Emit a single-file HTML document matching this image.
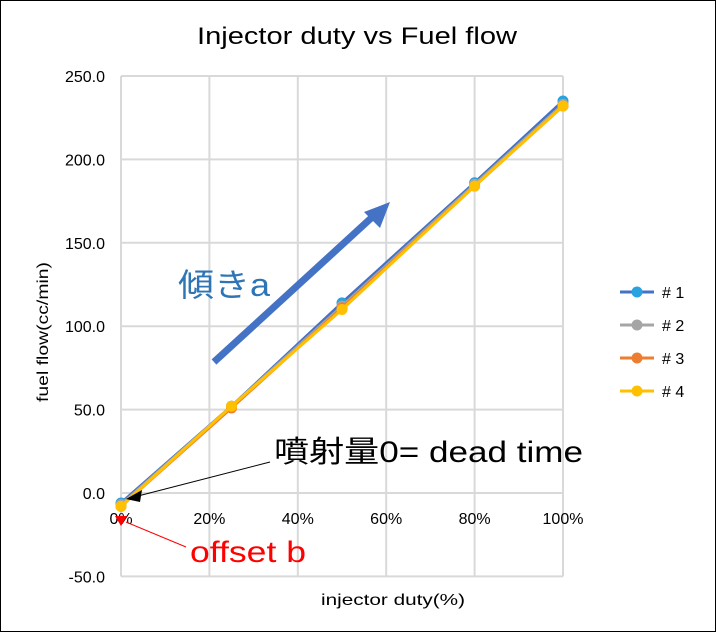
<!DOCTYPE html>
<html><head><meta charset="utf-8"><style>
body{margin:0;background:#fff}
svg{display:block;font-family:"Liberation Sans","Noto Sans CJK JP",sans-serif}
</style></head><body>
<svg width="716" height="632">
<rect x="0.5" y="0.5" width="715" height="631" fill="#fff" stroke="#000"/>
<text x="197" y="44" font-size="24" textLength="320" lengthAdjust="spacingAndGlyphs">Injector duty vs Fuel flow</text>
<g id="grid"></g><g id="ticks"></g><g id="series"></g>
<text x="321" y="605" font-size="16" textLength="144" lengthAdjust="spacingAndGlyphs">injector duty(%)</text>
<text transform="translate(48,402) rotate(-90)" font-size="16" textLength="140" lengthAdjust="spacingAndGlyphs">fuel flow(cc/min)</text>
<line x1="214" y1="362" x2="380" y2="210" stroke="#4472c4" stroke-width="7"/>
<polygon points="390,202 364,212 380,228" fill="#4472c4"/>
<text x="178" y="296" font-size="32" fill="#2e75b6" textLength="92" lengthAdjust="spacingAndGlyphs">傾きa</text>
<line x1="270" y1="462" x2="138" y2="496" stroke="#000" stroke-width="1"/>
<polygon points="126,499 142,490 140,502" fill="#000"/>
<text x="274" y="462" font-size="30" fill="#000" textLength="309" lengthAdjust="spacingAndGlyphs">噴射量0= dead time</text>
<line x1="186" y1="547" x2="126" y2="522" stroke="#f00" stroke-width="1"/>
<polygon points="121,526 115,516 127,516" fill="#f00"/>
<text x="190" y="562" font-size="30" fill="#f00" textLength="116" lengthAdjust="spacingAndGlyphs">offset b</text>
<g id="legend"></g>
</svg>
<script>
const xCats=[0,0.25,0.5,0.8,1.0];
const s1=[-6,52,114,186,235];
const s2=[-7,52,112,185,233];
const s3=[-8,51,111,184,232];
const s4=[-8,52,110,184,232];
const seriesNames=["# 1","# 2","# 3","# 4"];
const yTicks=[-50,0,50,100,150,200,250];
const xTicks=[0,0.2,0.4,0.6,0.8,1.0];
const colors=["#4472c4","#a5a5a5","#ed7d31","#ffc000"];
const markerC=["#29a3e0","#a5a5a5","#ed7d31","#ffc000"];
const NS="http://www.w3.org/2000/svg";
const X=v=>121+v*442, Y=v=>493-v*(417/250);
function mk(t,a,p){const e=document.createElementNS(NS,t);for(const k in a)e.setAttribute(k,a[k]);p.appendChild(e);return e;}
const g=document.getElementById('grid'),tk=document.getElementById('ticks'),sg=document.getElementById('series'),lg=document.getElementById('legend');
yTicks.forEach(v=>{const l=mk('line',{x1:121,x2:563,y1:Y(v),y2:Y(v),stroke:'#d9d9d9','stroke-width':2},g);


const t=mk('text',{x:105,y:Y(v)+6,'font-size':16,'text-anchor':'end'},tk);t.textContent=v.toFixed(1);

});
xTicks.forEach(v=>{const l=mk('line',{x1:X(v),x2:X(v),y1:Y(250),y2:Y(-50),stroke:'#d9d9d9','stroke-width':2},g);


const t=mk('text',{x:X(v),y:524,'font-size':16,'text-anchor':'middle'},tk);t.textContent=Math.round(v*100)+'%';

});
[s1,s2,s3,s4].forEach((s,i)=>{
const p=mk('polyline',{points:s.map((v,j)=>X(xCats[j])+','+Y(v)).join(' '),fill:'none',stroke:colors[i],'stroke-width':3},sg);


s.forEach((v,j)=>{const c=mk('circle',{cx:X(xCats[j]),cy:Y(v),r:5.5,fill:markerC[i]},sg);

});
const ly=292+i*33;
const ll=mk('line',{x1:620,x2:654,y1:ly,y2:ly,stroke:colors[i],'stroke-width':3},lg);


const lc=mk('circle',{cx:637,cy:ly,r:5.5,fill:markerC[i]},lg);


const lt=mk('text',{x:662,y:ly+6,'font-size':16},lg);lt.textContent=seriesNames[i];


});
</script>
</body></html>
